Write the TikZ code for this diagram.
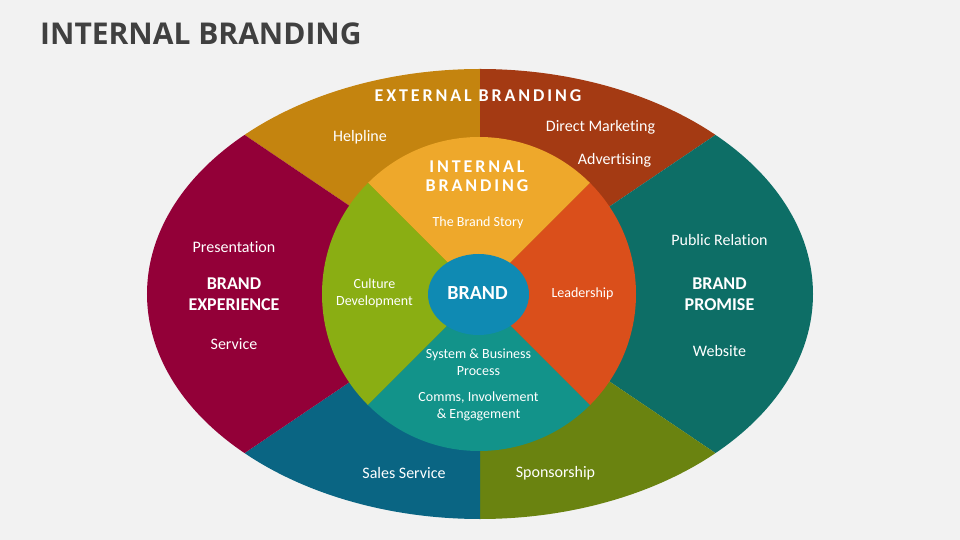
\documentclass[tikz,border=0pt]{standalone}
\usepackage{fontspec}
\setmainfont{Carlito}[Ligatures=NoCommon]
\newfontfamily\titlefont{Open Sans}
\newfontfamily\widefont{Carlito}[LetterSpace=16, Ligatures=NoCommon]
\usepackage{tikz}

\definecolor{bggray}{HTML}{F2F2F2}
\definecolor{titlegray}{HTML}{404040}
\definecolor{helpgold}{HTML}{C4840F}
\definecolor{directrust}{HTML}{A43A13}
\definecolor{promiseteal}{HTML}{0D6E66}
\definecolor{sponsorolive}{HTML}{6A8310}
\definecolor{salesblue}{HTML}{0A6583}
\definecolor{experiencered}{HTML}{930038}
\definecolor{storyyellow}{HTML}{EEA82B}
\definecolor{leadorange}{HTML}{DA4F1B}
\definecolor{systemteal}{HTML}{12938A}
\definecolor{culturegreen}{HTML}{8AAE13}
\definecolor{brandblue}{HTML}{0F8AB3}

\tikzset{
    outertext/.style={text=white, align=center, font=\fontsize{16}{19}\selectfont},
    innertext/.style={text=white, align=center, font=\fontsize{14}{17}\selectfont},
    headtext/.style={text=white, align=center, font=\bfseries\fontsize{18}{21}\selectfont},
    spacedtext/.style={text=white, align=center, font=\widefont\bfseries\fontsize{18}{19}\selectfont}
}

\begin{document}
\begin{tikzpicture}[x=1pt, y=1pt]
    \fill[bggray] (-480,-246) rectangle (480,294);
    \node[anchor=west, inner sep=0pt, text=titlegray, font=\titlefont\bfseries\fontsize{30}{36}\selectfont] at (-440,260.5) (title) {INTERNAL BRANDING};

    % outer ring
    \fill[helpgold] (0,0) -- (90:333 and 225) arc[start angle=90, end angle=135, x radius=333, y radius=225] -- cycle;
    \fill[directrust] (0,0) -- (45:333 and 225) arc[start angle=45, end angle=90, x radius=333, y radius=225] -- cycle;
    \fill[promiseteal] (0,0) -- (-45:333 and 225) arc[start angle=-45, end angle=45, x radius=333, y radius=225] -- cycle;
    \fill[sponsorolive] (0,0) -- (270:333 and 225) arc[start angle=270, end angle=315, x radius=333, y radius=225] -- cycle;
    \fill[salesblue] (0,0) -- (225:333 and 225) arc[start angle=225, end angle=270, x radius=333, y radius=225] -- cycle;
    \fill[experiencered] (0,0) -- (135:333 and 225) arc[start angle=135, end angle=225, x radius=333, y radius=225] -- cycle;

    % inner circle
    \fill[storyyellow] (-1,0) -- ++(45:157) arc[start angle=45, end angle=135, radius=157] -- cycle;
    \fill[culturegreen] (-1,0) -- ++(135:157) arc[start angle=135, end angle=225, radius=157] -- cycle;
    \fill[systemteal] (-1,0) -- ++(225:157) arc[start angle=225, end angle=315, radius=157] -- cycle;
    \fill[leadorange] (-1,0) -- ++(-45:157) arc[start angle=-45, end angle=45, radius=157] -- cycle;
    \fill[brandblue] (-1.5,-0.5) ellipse[x radius=50.5, y radius=40.5];

    % outer labels
    \node[spacedtext] at (-2,198) (external) {EXTERNAL BRANDING};
    \node[outertext] at (-120,157) (helpline) {Helpline};
    \node[outertext] at (120.5,167) (direct) {Direct Marketing};
    \node[outertext] at (134.5,134) (advert) {Advertising};
    \node[outertext] at (-246,47) (present) {Presentation};
    \node[headtext] at (-246,-0.5) (experience) {BRAND\\EXPERIENCE};
    \node[outertext] at (-246,-50) (service) {Service};
    \node[outertext] at (239.5,54) (public) {Public Relation};
    \node[headtext] at (239.5,-0.5) (promise) {BRAND\\PROMISE};
    \node[outertext] at (239.5,-57) (website) {Website};
    \node[outertext] at (-76,-179) (sales) {Sales Service};
    \node[outertext] at (75.5,-179) (sponsor) {Sponsorship};

    % inner labels
    \node[spacedtext] at (-3,118) (internal) {INTERNAL\\BRANDING};
    \node[innertext] at (-2,71) (story) {The Brand Story};
    \node[innertext] at (-105.5,0.5) (culture) {Culture\\Development};
    \node[innertext] at (102.5,0) (lead) {Leadership};
    \node[innertext] at (-1.5,-68) (system) {System \& Business\\Process};
    \node[innertext] at (-1.5,-112) (comms) {Comms, Involvement\\\& Engagement};
    \node[text=white, font=\bfseries\fontsize{20}{24}\selectfont] at (-2.5,1) (brand) {BRAND};
\end{tikzpicture}
\end{document}
